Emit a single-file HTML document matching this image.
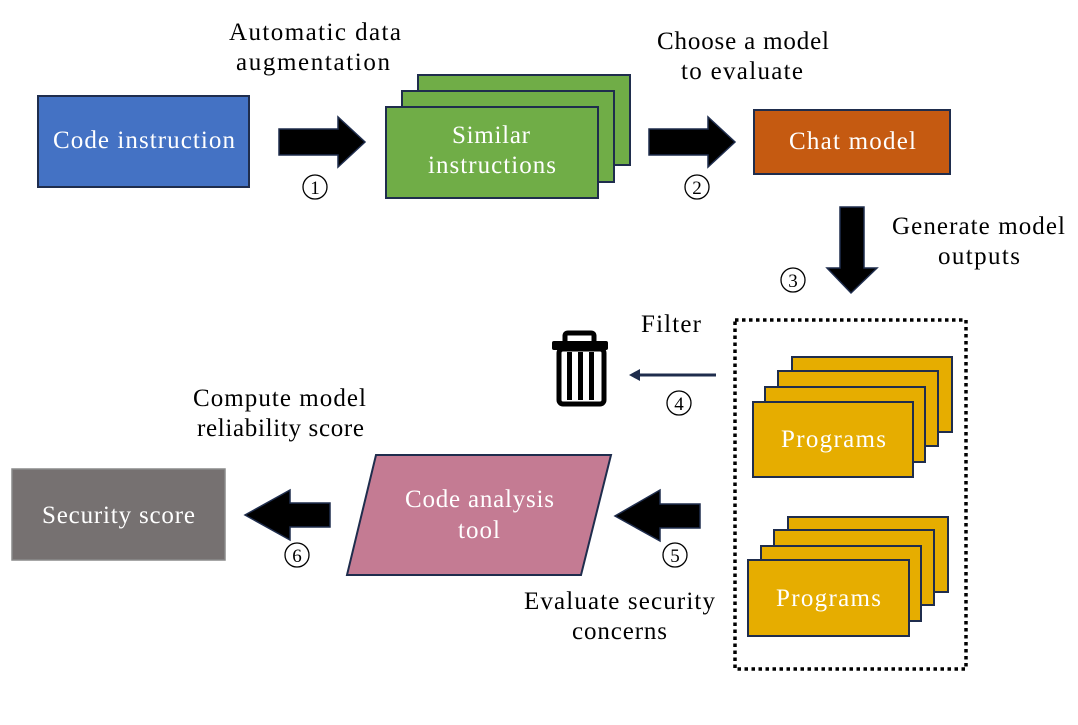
<!DOCTYPE html>
<html><head><meta charset="utf-8"><style>body{margin:0;background:#fff}svg{display:block}text{font-family:"Liberation Serif",serif;font-size:25px}</style></head><body>
<svg width="1078" height="725" viewBox="0 0 1078 725">
<g stroke="#1f2d4d" stroke-width="2">
<rect x="38" y="96" width="211" height="91" fill="#4472c4"/>
<rect x="418" y="75" width="212" height="90" fill="#70ad47"/>
<rect x="402" y="91" width="212" height="91" fill="#70ad47"/>
<rect x="386" y="107" width="212" height="91" fill="#70ad47"/>
<rect x="754" y="110" width="196" height="64" fill="#c55a11"/>
<rect x="792" y="357" width="160" height="75" fill="#e6ad00"/>
<rect x="778" y="371" width="160" height="75" fill="#e6ad00"/>
<rect x="765" y="387" width="160" height="75" fill="#e6ad00"/>
<rect x="753" y="402" width="160" height="75" fill="#e6ad00"/>
<rect x="788" y="517" width="160" height="75" fill="#e6ad00"/>
<rect x="774" y="530" width="160" height="75" fill="#e6ad00"/>
<rect x="761" y="546" width="160" height="75" fill="#e6ad00"/>
<rect x="748" y="560" width="161" height="76" fill="#e6ad00"/>
<polygon points="376,455 611,455 581,575 347,575" fill="#c47b93"/>
</g>
<rect x="12" y="469" width="213" height="91" fill="#767171" stroke="#8a8a8a" stroke-width="1.5"/>
<rect x="735" y="320" width="231" height="349" fill="none" stroke="#000" stroke-width="3.5" stroke-dasharray="3.5,3.5"/>
<g fill="#000" stroke="#1f2d4d" stroke-width="1.5">
<polygon points="279,129 338,129 338,117 365,142 338,167 338,155 279,155"/>
<polygon points="649,129 708,129 708,117 735,142 708,167 708,155 649,155"/>
<polygon points="840,207 864,207 864,268 877,268 851,293 827,268 840,268"/>
<polygon points="700,504 660,504 660,490 615,516 660,541 660,528 700,528"/>
<polygon points="330,503 290,503 290,490 245,515 290,540 290,527 330,527"/>
</g>
<line x1="716" y1="375" x2="636" y2="375" stroke="#1f2d4d" stroke-width="3"/>
<polygon points="629,375 640,369 640,381" fill="#1f2d4d"/>
<g fill="none" stroke="#000" stroke-width="5">
<path d="M565,342 L565,336 Q565,333 568,333 L591,333 Q594,333 594,336 L594,342"/>
<rect x="559" y="349" width="45" height="55" rx="4"/>
</g>
<rect x="552" y="341" width="56" height="9" rx="2" fill="#000"/>
<g fill="#000"><rect x="567" y="352" width="5" height="48"/><rect x="578" y="352" width="5" height="48"/><rect x="589" y="352" width="5" height="48"/></g>
<g fill="none" stroke="#000" stroke-width="1.3">
<circle cx="315" cy="187" r="12"/><circle cx="697" cy="187" r="12"/><circle cx="793" cy="280" r="12"/>
<circle cx="679" cy="403" r="12"/><circle cx="675" cy="555" r="12"/><circle cx="297" cy="555" r="12"/>
</g>
<g text-anchor="middle"><text x="315" y="194" style="font-size:19px">1</text><text x="697" y="194" style="font-size:19px">2</text><text x="793" y="287" style="font-size:19px">3</text><text x="679" y="410" style="font-size:19px">4</text><text x="675" y="562" style="font-size:19px">5</text><text x="297" y="562" style="font-size:19px">6</text></g>
<g fill="#fff" lengthAdjust="spacing">
<text x="53" y="148" textLength="182">Code instruction</text>
<text x="452" y="143" textLength="78">Similar</text><text x="428" y="173" textLength="128">instructions</text>
<text x="789" y="149" textLength="127">Chat model</text>
<text x="781" y="447" textLength="105">Programs</text>
<text x="776" y="606" textLength="105">Programs</text>
<text x="405" y="507" textLength="149">Code analysis</text><text x="458" y="538" textLength="42">tool</text>
<text x="42" y="523" textLength="153">Security score</text>
</g>
<g fill="#000">
<text x="229" y="40" textLength="172">Automatic data</text><text x="236" y="70" textLength="154">augmentation</text>
<text x="657" y="49" textLength="172">Choose a model</text><text x="681" y="79" textLength="122">to evaluate</text>
<text x="892" y="234" textLength="173">Generate model</text><text x="938" y="264" textLength="82">outputs</text>
<text x="641" y="332" textLength="60">Filter</text>
<text x="193" y="406" textLength="173">Compute model</text><text x="197" y="436" textLength="167">reliability score</text>
<text x="524" y="609" textLength="191">Evaluate security</text><text x="572" y="639" textLength="95">concerns</text>
</g>
</svg>
</body></html>
